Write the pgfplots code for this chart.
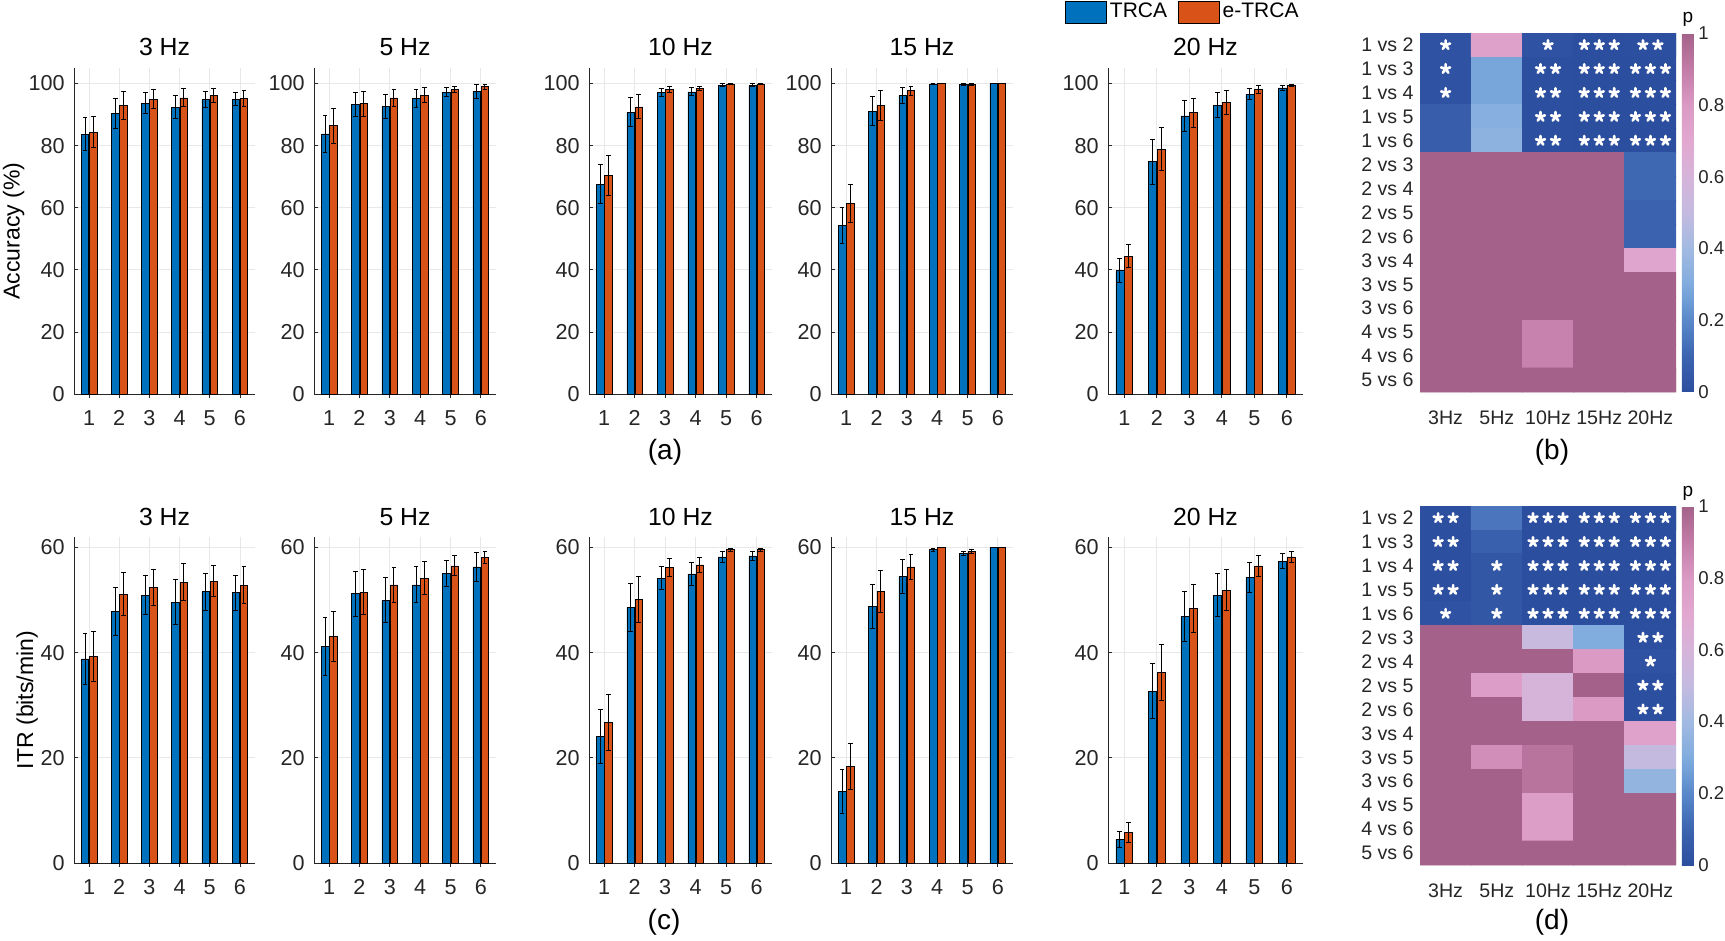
\documentclass[border=0pt]{standalone}
\usepackage{fontspec}
\setmainfont{Liberation Sans}
\usepackage{pgfplots}
\usepackage{pgfplotstable}
\pgfplotsset{compat=1.18}

\definecolor{trblue}{RGB}{0,114,189}
\definecolor{trorange}{RGB}{217,83,25}

% ---------- accuracy (%) : x, TRCA mean, TRCA sd, e-TRCA mean, e-TRCA sd ----------
\pgfplotstableread{
x t te e ee
1 83.7 5.2 84.3 5.0
2 90.4 4.8 92.9 4.4
3 93.7 3.3 95.0 3.1
4 92.4 3.7 95.4 2.9
5 94.9 2.6 96.1 2.2
6 95.0 2.2 95.3 2.6
}\accA
\pgfplotstableread{
x t te e ee
1 83.8 6.0 86.4 5.6
2 93.2 3.8 93.5 4.0
3 92.6 3.8 95.4 2.7
4 95.2 2.9 96.2 2.4
5 97.2 1.5 98.1 1.1
6 97.5 2.2 99.0 0.8
}\accB
\pgfplotstableread{
x t te e ee
1 67.6 6.4 70.4 6.4
2 90.7 4.7 92.5 3.9
3 97.1 1.3 98.1 0.9
4 97.3 1.3 98.4 0.8
5 99.4 0.5 99.9 0.1
6 99.4 0.5 99.9 0.1
}\accC
\pgfplotstableread{
x t te e ee
1 54.3 5.7 61.4 6.1
2 91.1 4.6 92.9 4.7
3 96.2 2.5 97.7 1.5
4 99.9 0.1 100 0
5 99.7 0.3 99.7 0.2
6 100 0 100 0
}\accD
\pgfplotstableread{
x t te e ee
1 39.8 4.0 44.3 3.7
2 74.8 7.2 78.9 6.8
3 89.6 5.0 90.6 4.7
4 93.0 4.0 93.8 3.8
5 96.6 1.7 98.1 1.3
6 98.6 0.8 99.3 0.4
}\accE

% ---------- ITR (bits/min) ----------
\pgfplotstableread{
x t te e ee
1 38.8 4.9 39.3 4.7
2 47.8 4.6 51.1 4.1
3 50.9 3.7 52.4 3.5
4 49.6 4.3 53.4 3.5
5 51.6 3.5 53.6 2.9
6 51.4 3.3 52.8 3.5
}\itrA
\pgfplotstableread{
x t te e ee
1 41.2 5.5 43.1 4.8
2 51.2 4.3 51.5 4.3
3 50.0 4.3 52.9 3.3
4 52.9 3.4 54.2 3.2
5 55.1 2.5 56.5 1.9
6 56.3 2.8 58.1 1.2
}\itrB
\pgfplotstableread{
x t te e ee
1 24.1 5.1 26.7 5.3
2 48.6 4.6 50.1 4.3
3 54.2 2.1 56.2 1.8
4 55.0 2.2 56.7 1.4
5 58.2 1.1 59.6 0.3
6 58.4 0.9 59.6 0.3
}\itrC
\pgfplotstableread{
x t te e ee
1 13.6 4.2 18.3 4.4
2 48.8 4.2 51.7 4.0
3 54.5 3.2 56.3 2.4
4 59.6 0.3 60.0 0
5 58.9 0.4 59.2 0.4
6 60.0 0 60.0 0
}\itrD
\pgfplotstableread{
x t te e ee
1 4.5 1.5 5.8 1.9
2 32.7 5.2 36.2 5.3
3 46.9 4.7 48.4 4.5
4 50.9 4.1 51.9 3.9
5 54.3 2.9 56.5 2.0
6 57.4 1.4 58.2 1.0
}\itrE

% ---------- p values of pairwise comparisons (row 15 = "1 vs 2") ----------
\pgfplotstableread[row sep=\\]{
c r p\\
1 15 0.02\\ 2 15 0.75\\ 3 15 0.02\\ 4 15 0.0\\ 5 15 0.005\\
1 14 0.02\\ 2 14 0.28\\ 3 14 0.005\\ 4 14 0.0\\ 5 14 0.0\\
1 13 0.02\\ 2 13 0.28\\ 3 13 0.005\\ 4 13 0.0\\ 5 13 0.0\\
1 12 0.07\\ 2 12 0.32\\ 3 12 0.005\\ 4 12 0.0\\ 5 12 0.0\\
1 11 0.07\\ 2 11 0.34\\ 3 11 0.005\\ 4 11 0.0\\ 5 11 0.0\\
1 10 1\\ 2 10 1\\ 3 10 1\\ 4 10 1\\ 5 10 0.11\\
1 9 1\\ 2 9 1\\ 3 9 1\\ 4 9 1\\ 5 9 0.11\\
1 8 1\\ 2 8 1\\ 3 8 1\\ 4 8 1\\ 5 8 0.09\\
1 7 1\\ 2 7 1\\ 3 7 1\\ 4 7 1\\ 5 7 0.09\\
1 6 1\\ 2 6 1\\ 3 6 1\\ 4 6 1\\ 5 6 0.72\\
1 5 1\\ 2 5 1\\ 3 5 1\\ 4 5 1\\ 5 5 1\\
1 4 1\\ 2 4 1\\ 3 4 1\\ 4 4 1\\ 5 4 1\\
1 3 1\\ 2 3 1\\ 3 3 0.88\\ 4 3 1\\ 5 3 1\\
1 2 1\\ 2 2 1\\ 3 2 0.88\\ 4 2 1\\ 5 2 1\\
1 1 1\\ 2 1 1\\ 3 1 1\\ 4 1 1\\ 5 1 1\\
}\pAcc
% number of significance stars per cell
\pgfplotstableread[row sep=\\]{
c r s\\
1 15 1\\ 3 15 1\\ 4 15 3\\ 5 15 2\\
1 14 1\\ 3 14 2\\ 4 14 3\\ 5 14 3\\
1 13 1\\ 3 13 2\\ 4 13 3\\ 5 13 3\\
3 12 2\\ 4 12 3\\ 5 12 3\\
3 11 2\\ 4 11 3\\ 5 11 3\\
}\sAcc
\pgfplotstableread[row sep=\\]{
c r p\\
1 15 0.005\\ 2 15 0.15\\ 3 15 0.0\\ 4 15 0.0\\ 5 15 0.0\\
1 14 0.005\\ 2 14 0.08\\ 3 14 0.0\\ 4 14 0.0\\ 5 14 0.0\\
1 13 0.005\\ 2 13 0.04\\ 3 13 0.0\\ 4 13 0.0\\ 5 13 0.0\\
1 12 0.005\\ 2 12 0.04\\ 3 12 0.0\\ 4 12 0.0\\ 5 12 0.0\\
1 11 0.02\\ 2 11 0.04\\ 3 11 0.0\\ 4 11 0.0\\ 5 11 0.0\\
1 10 1\\ 2 10 1\\ 3 10 0.52\\ 4 10 0.3\\ 5 10 0.005\\
1 9 1\\ 2 9 1\\ 3 9 1\\ 4 9 0.8\\ 5 9 0.02\\
1 8 1\\ 2 8 0.77\\ 3 8 0.6\\ 4 8 1\\ 5 8 0.005\\
1 7 1\\ 2 7 1\\ 3 7 0.6\\ 4 7 0.8\\ 5 7 0.005\\
1 6 1\\ 2 6 1\\ 3 6 1\\ 4 6 1\\ 5 6 0.74\\
1 5 1\\ 2 5 0.84\\ 3 5 0.93\\ 4 5 1\\ 5 5 0.5\\
1 4 1\\ 2 4 1\\ 3 4 0.93\\ 4 4 1\\ 5 4 0.36\\
1 3 1\\ 2 3 1\\ 3 3 0.78\\ 4 3 1\\ 5 3 1\\
1 2 1\\ 2 2 1\\ 3 2 0.78\\ 4 2 1\\ 5 2 1\\
1 1 1\\ 2 1 1\\ 3 1 1\\ 4 1 1\\ 5 1 1\\
}\pItr
\pgfplotstableread[row sep=\\]{
c r s\\
1 15 2\\ 3 15 3\\ 4 15 3\\ 5 15 3\\
1 14 2\\ 3 14 3\\ 4 14 3\\ 5 14 3\\
1 13 2\\ 2 13 1\\ 3 13 3\\ 4 13 3\\ 5 13 3\\
1 12 2\\ 2 12 1\\ 3 12 3\\ 4 12 3\\ 5 12 3\\
1 11 1\\ 2 11 1\\ 3 11 3\\ 4 11 3\\ 5 11 3\\
5 10 2\\ 5 9 1\\ 5 8 2\\ 5 7 2\\
}\sItr

% significance markers: one, two or three five-armed asterisks
\newcommand\sigarm[2]{%
  \pgfpathmoveto{\pgfpoint{#1}{0pt}}%
  \pgfpathlineto{\pgfpointadd{\pgfpoint{#1}{0pt}}{\pgfpointpolar{#2}{2.35pt}}}}
\newcommand\sigast[1]{%
  \sigarm{#1}{90}\sigarm{#1}{18}\sigarm{#1}{162}\sigarm{#1}{234}\sigarm{#1}{306}}
\pgfdeclareplotmark{sig1}{\sigast{0pt}\pgfusepathqstroke}
\pgfdeclareplotmark{sig2}{\sigast{-3.75pt}\sigast{3.75pt}\pgfusepathqstroke}
\pgfdeclareplotmark{sig3}{\sigast{-7.5pt}\sigast{0pt}\sigast{7.5pt}\pgfusepathqstroke}

\pgfplotsset{
  /pgf/number format/assume math mode=true,
  every axis title shift=0pt,
  barax/.style={
    scale only axis, height=163pt,
    xmin=0.5, xmax=6.5, ymin=0,
    axis x line*=bottom, axis y line*=left,
    axis line style={black!85, line width=0.5pt},
    xtick={1,...,6},
    grid=major, grid style={black!9, line width=0.4pt},
    tick align=inside, major tick length=2pt,
    tick style={black!85, line width=0.4pt},
    ticklabel style={font=\fontsize{10.8}{13}\selectfont, text=black!85, inner sep=0pt},
    xticklabel style={anchor=base, yshift=-13.9pt},
    yticklabel style={anchor=east, xshift=-4.5pt},
    title style={at={(0.5,1)}, anchor=base, yshift=6pt, inner sep=0pt,
      font=\fontsize{12.4}{14}\selectfont},
    ylabel style={font=\fontsize{11.5}{14}\selectfont, anchor=base, inner sep=0pt},
    ybar, bar width=0.25,
  },
  accax/.style={barax, ymax=105, ytick={0,20,40,60,80,100}},
  itrax/.style={barax, ymax=62, ytick={0,20,40,60}},
  errs/.style={
    error bars/y dir=both, error bars/y explicit,
    error bars/error bar style={line width=0.5pt, black},
    error bars/error mark options={rotate=90, mark size=1.2pt, line width=0.5pt, black},
  },
  trca/.style={fill=trblue, draw=black, line width=0.3pt, bar shift=-0.135, errs},
  etrca/.style={fill=trorange, draw=black, line width=0.3pt, bar shift=0.135, errs},
  boxlegend/.style={legend image code/.code={\draw[##1] (0pt,-5.5pt) rectangle (20.5pt,5.5pt);}},
  hmax/.style={
    scale only axis, width=128pt, height=179.5pt,
    xmin=0.5, xmax=5.5, ymin=0.5, ymax=15.5,
    enlargelimits=false,
    xtick={1,...,5}, xticklabels={3Hz,5Hz,10Hz,15Hz,20Hz},
    ytick={1,...,15},
    yticklabels={5 vs 6,4 vs 6,4 vs 5,3 vs 6,3 vs 5,3 vs 4,2 vs 6,2 vs 5,2 vs 4,2 vs 3,1 vs 6,1 vs 5,1 vs 4,1 vs 3,1 vs 2},
    axis line style={draw=none}, major tick length=0pt,
    ticklabel style={font=\fontsize{9.8}{12}\selectfont, text=black!85, inner sep=0pt},
    xticklabel style={anchor=base, yshift=-16.3pt},
    yticklabel style={anchor=east, xshift=-3pt},
    colormap={pmap}{
      rgb255(0cm)=(44,78,158);
      rgb255(1cm)=(60,100,176);
      rgb255(2cm)=(90,137,202);
      rgb255(3cm)=(128,172,222);
      rgb255(4cm)=(162,186,226);
      rgb255(5cm)=(196,186,224);
      rgb255(6cm)=(214,180,218);
      rgb255(7cm)=(226,168,208);
      rgb255(8cm)=(218,154,196);
      rgb255(9cm)=(194,124,167);
      rgb255(10cm)=(164,98,138)
    },
    point meta min=0, point meta max=1,
    colorbar,
    colorbar style={
      width=6pt, at={(parent axis.north east)}, anchor=north west, xshift=-5.6pt,
      ytick={0,0.2,0.4,0.6,0.8,1},
      yticklabel style={font=\fontsize{9.3}{11}\selectfont, text=black!85,
        anchor=west, xshift=2pt, inner sep=0pt},
      major tick length=0pt, axis line style={draw=none},
      title=p,
      title style={at={(0.5,1)}, anchor=base, yshift=5pt, inner sep=0pt,
        font=\fontsize{9.5}{11}\selectfont},
    },
  },
  stars/.style={
    scatter, only marks, point meta=explicit symbolic,
    scatter/classes={
      1={mark=sig1, draw=white, fill=none, line width=1.35pt, line cap=round},
      2={mark=sig2, draw=white, fill=none, line width=1.35pt, line cap=round},
      3={mark=sig3, draw=white, fill=none, line width=1.35pt, line cap=round}},
    mark options={draw=white, fill=none, line width=1.35pt, line cap=round},
  },
}

\begin{document}
\begin{tikzpicture}
\useasboundingbox (0pt,0pt) rectangle (862.5pt,-470.5pt);

% ================= accuracy row =================
\begin{axis}[accax, width=90.5pt, at={(37pt,-197pt)}, anchor=south west,
  title={3 Hz}, ylabel={Accuracy (\%)},
  ylabel style={at={(axis description cs:-0.301,0.5)}}]
\addplot[trca] table[x=x, y=t, y error=te] {\accA};
\addplot[etrca] table[x=x, y=e, y error=ee] {\accA};
\end{axis}
\begin{axis}[accax, width=91pt, at={(157pt,-197pt)}, anchor=south west, title={5 Hz}]
\addplot[trca] table[x=x, y=t, y error=te] {\accB};
\addplot[etrca] table[x=x, y=e, y error=ee] {\accB};
\end{axis}
\begin{axis}[accax, width=91.5pt, at={(294.5pt,-197pt)}, anchor=south west, title={10 Hz}]
\addplot[trca] table[x=x, y=t, y error=te] {\accC};
\addplot[etrca] table[x=x, y=e, y error=ee] {\accC};
\end{axis}
\begin{axis}[accax, width=91pt, at={(415.5pt,-197pt)}, anchor=south west, title={15 Hz}]
\addplot[trca] table[x=x, y=t, y error=te] {\accD};
\addplot[etrca] table[x=x, y=e, y error=ee] {\accD};
\end{axis}
\begin{axis}[accax, width=97.5pt, at={(554pt,-197pt)}, anchor=south west, title={20 Hz},
  legend columns=2,
  legend style={at={(0.387,1.172)}, anchor=center, draw=none, fill=none,
    font=\fontsize{10.5}{12}\selectfont, inner sep=0pt,
    nodes={inner sep=1.5pt},
    /tikz/every even column/.append style={column sep=4pt}}]
\addplot[trca, boxlegend] table[x=x, y=t, y error=te] {\accE};
\addlegendentry{TRCA}
\addplot[etrca, boxlegend] table[x=x, y=e, y error=ee] {\accE};
\addlegendentry{e-TRCA}
\end{axis}

% ================= ITR row =================
\begin{axis}[itrax, width=90.5pt, at={(37pt,-431.5pt)}, anchor=south west,
  title={3 Hz}, ylabel={ITR (bits/min)},
  ylabel style={at={(axis description cs:-0.2265,0.5)}}]
\addplot[trca] table[x=x, y=t, y error=te] {\itrA};
\addplot[etrca] table[x=x, y=e, y error=ee] {\itrA};
\end{axis}
\begin{axis}[itrax, width=91pt, at={(157pt,-431.5pt)}, anchor=south west, title={5 Hz}]
\addplot[trca] table[x=x, y=t, y error=te] {\itrB};
\addplot[etrca] table[x=x, y=e, y error=ee] {\itrB};
\end{axis}
\begin{axis}[itrax, width=91.5pt, at={(294.5pt,-431.5pt)}, anchor=south west, title={10 Hz}]
\addplot[trca] table[x=x, y=t, y error=te] {\itrC};
\addplot[etrca] table[x=x, y=e, y error=ee] {\itrC};
\end{axis}
\begin{axis}[itrax, width=91pt, at={(415.5pt,-431.5pt)}, anchor=south west, title={15 Hz}]
\addplot[trca] table[x=x, y=t, y error=te] {\itrD};
\addplot[etrca] table[x=x, y=e, y error=ee] {\itrD};
\end{axis}
\begin{axis}[itrax, width=97.5pt, at={(554pt,-431.5pt)}, anchor=south west, title={20 Hz}]
\addplot[trca] table[x=x, y=t, y error=te] {\itrE};
\addplot[etrca] table[x=x, y=e, y error=ee] {\itrE};
\end{axis}

% ================= p-value maps =================
\begin{axis}[hmax, at={(710pt,-196pt)}, anchor=south west]
\addplot[matrix plot*, mesh/cols=5, point meta=explicit] table[x=c, y=r, meta=p] {\pAcc};
\addplot[stars] table[x=c, y=r, meta=s] {\sAcc};
\end{axis}
\begin{axis}[hmax, at={(710pt,-432.5pt)}, anchor=south west]
\addplot[matrix plot*, mesh/cols=5, point meta=explicit] table[x=c, y=r, meta=p] {\pItr};
\addplot[stars] table[x=c, y=r, meta=s] {\sItr};
\end{axis}

% panel labels
\begin{scope}[every node/.style={font=\fontsize{14}{16}\selectfont, inner sep=0pt}]
\node at (332.5pt,-226pt) {(a)};
\node at (776pt,-226pt) {(b)};
\node at (332pt,-461pt) {(c)};
\node at (776pt,-461pt) {(d)};
\end{scope}
\end{tikzpicture}
\end{document}
